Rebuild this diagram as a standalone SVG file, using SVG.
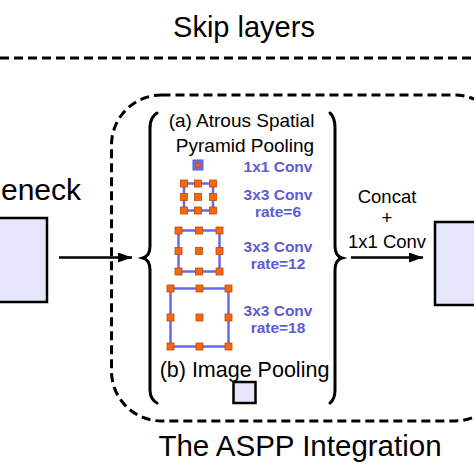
<svg xmlns="http://www.w3.org/2000/svg" width="474" height="474" viewBox="0 0 474 474">
<style>
text{font-family:"Liberation Sans",Arial,sans-serif;fill:#000}
.dash{fill:none;stroke:#000;stroke-width:3;stroke-dasharray:9,5}
.brace{fill:none;stroke:#000;stroke-width:3;stroke-linecap:round}
.box{fill:#e6e6fa;stroke:#000;stroke-width:2.5}
.blue{font-weight:bold;fill:#5c5cd6;font-size:15.5px;text-anchor:middle}
.grid{fill:none;stroke:#6a6ae6;stroke-width:2.5}
.dot{fill:#f26a10;stroke:#c04a00;stroke-width:0.8}
.conn{stroke:#000;stroke-width:2.5;fill:none}
</style>
<defs>
<marker id="ah" viewBox="0 0 14 10" refX="14" refY="5" markerWidth="14" markerHeight="10" markerUnits="userSpaceOnUse" orient="auto">
<path d="M0,0 L14,5 L0,10 Z" fill="#000"/>
</marker>
</defs>
<rect width="474" height="474" fill="#fff"/>
<text x="244" y="37" font-size="29" text-anchor="middle">Skip layers</text>
<line class="dash" x1="0" y1="58" x2="474" y2="58"/>
<rect id="aspp-region" class="dash" x="111.5" y="95" width="393" height="326" rx="50" ry="50"/>
<text x="300" y="456" font-size="29.5" text-anchor="middle">The ASPP Integration</text>
<g id="bottleneck">
<text x="1" y="200" font-size="30">eneck</text>
<rect class="box" x="-10" y="218" width="57" height="84"/>
</g>
<g id="output">
<rect class="box" x="435" y="222" width="60" height="83"/>
</g>
<g id="braces">
<path class="brace" d="M157,113 Q150,117 150,128 L150,246 Q150,256 143,258 Q150,260 150,270 L150,390 Q150,399 157,403"/>
<path class="brace" d="M330,113 Q335,117 335,128 L335,246 Q335,256 342,258 Q335,260 335,270 L335,390 Q335,399 330,403"/>
</g>
<g id="aspp-title">
<text x="241.5" y="127" font-size="19" text-anchor="middle">(a) Atrous Spatial</text>
<text x="245" y="152" font-size="19" text-anchor="middle">Pyramid Pooling</text>
</g>
<g id="conv1x1">
<rect x="193" y="160" width="10" height="10" fill="#7070e0" stroke="#5a5ad0" stroke-width="1"/>
<rect class="dot" x="196" y="163" width="4" height="4"/>
<text class="blue" x="278" y="172">1x1 Conv</text>
</g>
<g id="conv-rate6">
<rect class="grid" x="184" y="183.5" width="29" height="27"/>
<g class="dot">
<rect x="180.5" y="180" width="7" height="7"/><rect x="194.5" y="180" width="7" height="7"/><rect x="209.5" y="180" width="7" height="7"/>
<rect x="180.5" y="193.5" width="7" height="7"/><rect x="194.5" y="193.5" width="7" height="7"/><rect x="209.5" y="193.5" width="7" height="7"/>
<rect x="180.5" y="207" width="7" height="7"/><rect x="194.5" y="207" width="7" height="7"/><rect x="209.5" y="207" width="7" height="7"/>
</g>
<text class="blue" x="278" y="200">3x3 Conv</text>
<text class="blue" x="278" y="217">rate=6</text>
</g>
<g id="conv-rate12">
<rect class="grid" x="178.5" y="230.5" width="41" height="41"/>
<g class="dot">
<rect x="175" y="227" width="7" height="7"/><rect x="195.5" y="227" width="7" height="7"/><rect x="216" y="227" width="7" height="7"/>
<rect x="175" y="247.5" width="7" height="7"/><rect x="195.5" y="247.5" width="7" height="7"/><rect x="216" y="247.5" width="7" height="7"/>
<rect x="175" y="268" width="7" height="7"/><rect x="195.5" y="268" width="7" height="7"/><rect x="216" y="268" width="7" height="7"/>
</g>
<text class="blue" x="278" y="252">3x3 Conv</text>
<text class="blue" x="278" y="269">rate=12</text>
</g>
<g id="conv-rate18">
<rect class="grid" x="170.5" y="288.5" width="58" height="58"/>
<g class="dot">
<rect x="167" y="285" width="7" height="7"/><rect x="196" y="285" width="7" height="7"/><rect x="225" y="285" width="7" height="7"/>
<rect x="167" y="314" width="7" height="7"/><rect x="196" y="314" width="7" height="7"/><rect x="225" y="314" width="7" height="7"/>
<rect x="167" y="343" width="7" height="7"/><rect x="196" y="343" width="7" height="7"/><rect x="225" y="343" width="7" height="7"/>
</g>
<text class="blue" x="278" y="316">3x3 Conv</text>
<text class="blue" x="278" y="333">rate=18</text>
</g>
<g id="image-pooling">
<text x="244.5" y="377" font-size="21.5" text-anchor="middle">(b) Image Pooling</text>
<rect class="box" x="233.5" y="382" width="22" height="21" stroke-width="2"/>
</g>
<g id="connectors">
<line class="conn" x1="59" y1="257.5" x2="132" y2="257.5" marker-end="url(#ah)"/>
<line class="conn" x1="351" y1="257.5" x2="423" y2="257.5" marker-end="url(#ah)"/>
<text x="387" y="203" font-size="18.5" text-anchor="middle">Concat</text>
<text x="387" y="224" font-size="18.5" text-anchor="middle">+</text>
<text x="387" y="248" font-size="18.5" text-anchor="middle">1x1 Conv</text>
</g>
</svg>
